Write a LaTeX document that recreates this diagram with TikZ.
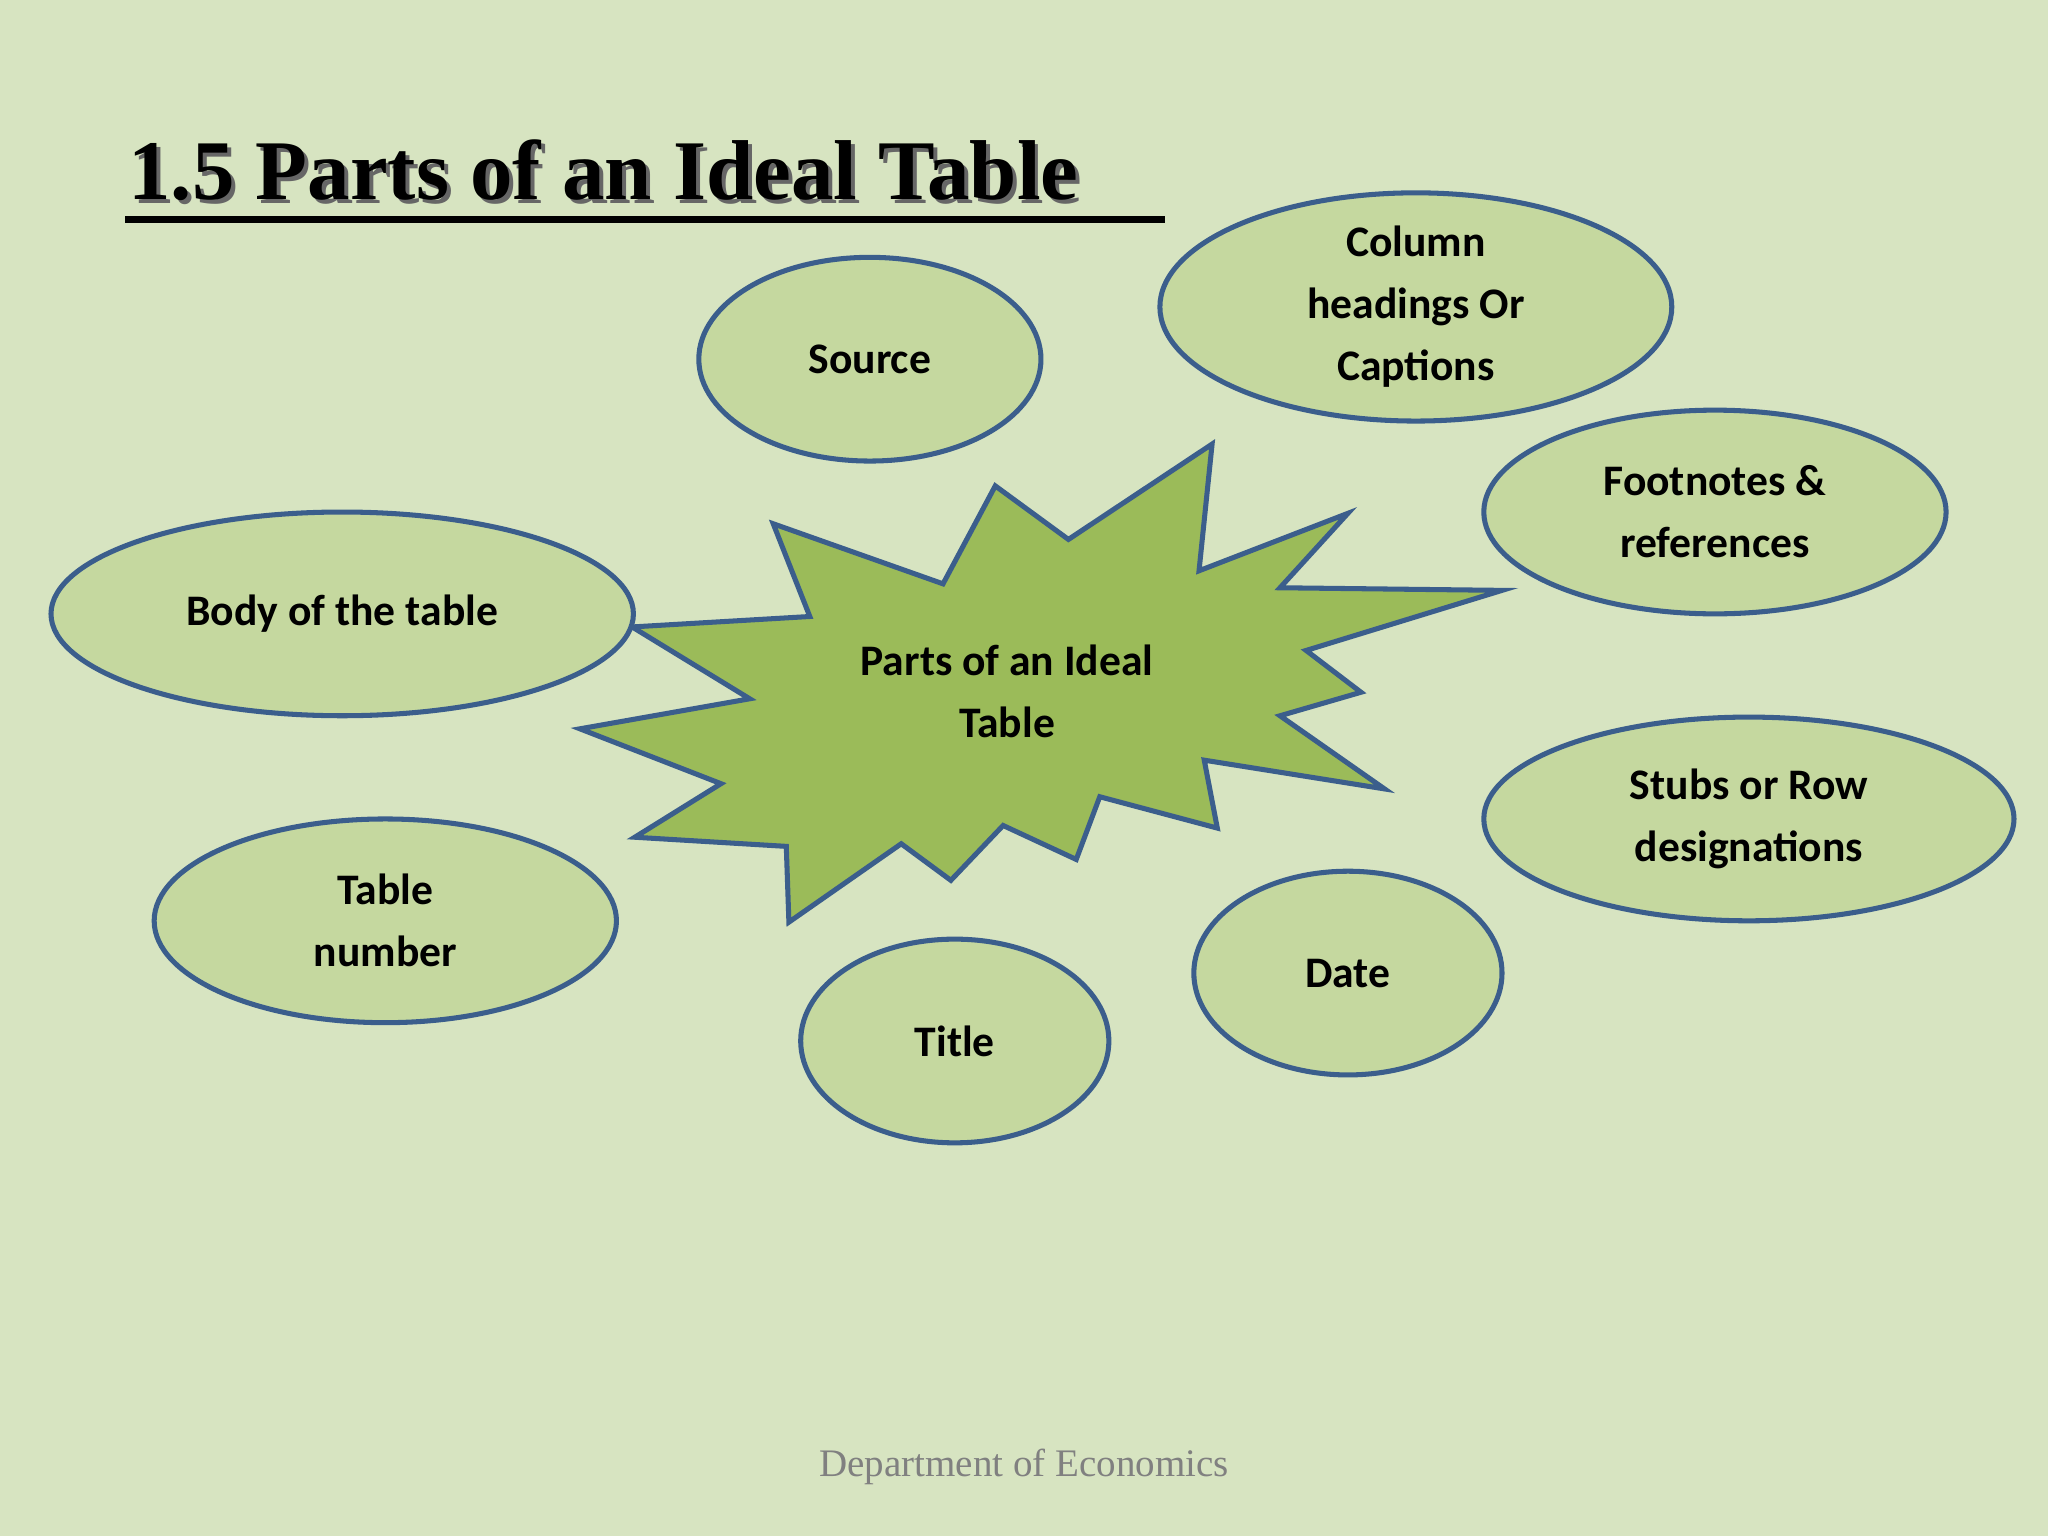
\documentclass[tikz,border=0pt]{standalone}
\usepackage{fontspec}
\setmainfont{Liberation Serif}
\newfontfamily\carlitofont{Carlito}
\usetikzlibrary{shapes.geometric}
\definecolor{bg}{HTML}{D7E4C1}
\definecolor{ellf}{HTML}{C5D89F}
\definecolor{bord}{HTML}{3B5E8C}
\definecolor{starf}{HTML}{9BBB59}
\begin{document}
\begin{tikzpicture}[x=0.02cm,y=-0.02cm,
  oval/.style={ellipse,draw=bord,line width=2.2pt,fill=ellf,minimum height=3.12cm,font=\carlitofont\bfseries\fontsize{19}{27}\selectfont,align=center,inner sep=0pt}]
\fill[bg] (0,0) rectangle (1568,1176);
\useasboundingbox (0,0) rectangle (1568,1176);
\node[font=\bfseries\fontsize{37}{44}\selectfont,text=black!60,anchor=base west,inner sep=0pt] at (101,156) {1.5 Parts of an Ideal Table};
\node[font=\bfseries\fontsize{37}{44}\selectfont,anchor=base west,inner sep=0pt] (title) at (98,153) {1.5 Parts of an Ideal Table};
\draw[line width=3pt] (96,168) -- (892,168);
\draw[draw=bord,line width=2.2pt,fill=starf,line join=miter]
(928,340)--(918,437)--(1032,393)--(980,450)--(1150,452)--(1000,498)--(1042,530)--(980,548)--(1060,604)--(922,582)--(932,634)--(842,610)--(824,658)--(768,632)--(728,674)--(690,646)--(604,706)--(602,648)--(486,641)--(552,600)--(444,558)--(574,535)--(484,480)--(620,472)--(592,401)--(722,447)--(762,372)--(818,413)--cycle;
\node[font=\carlitofont\bfseries\fontsize{19}{27}\selectfont,align=center] (center) at (771,529) {Parts of an Ideal\\Table};
\node[oval,minimum width=5.24cm] (source) at (666,275) {Source};
\node[oval,minimum width=7.84cm] (column) at (1084,235) {Column\\headings Or\\Captions};
\node[oval,minimum width=7.08cm] (foot) at (1313,392) {Footnotes \&\\references};
\node[oval,minimum width=8.92cm] (body) at (262,470) {Body of the table};
\node[oval,minimum width=8.12cm] (stubs) at (1339,627) {Stubs or Row\\designations};
\node[oval,minimum width=7.08cm] (tnum) at (295,705) {Table\\number};
\node[oval,minimum width=4.72cm] (date) at (1032,745) {Date};
\node[oval,minimum width=4.72cm] (ttl) at (731,797) {Title};
\node[font=\fontsize{17}{20}\selectfont,text=black!50] (dept) at (784,1123) {Department of Economics};
\end{tikzpicture}
\end{document}
